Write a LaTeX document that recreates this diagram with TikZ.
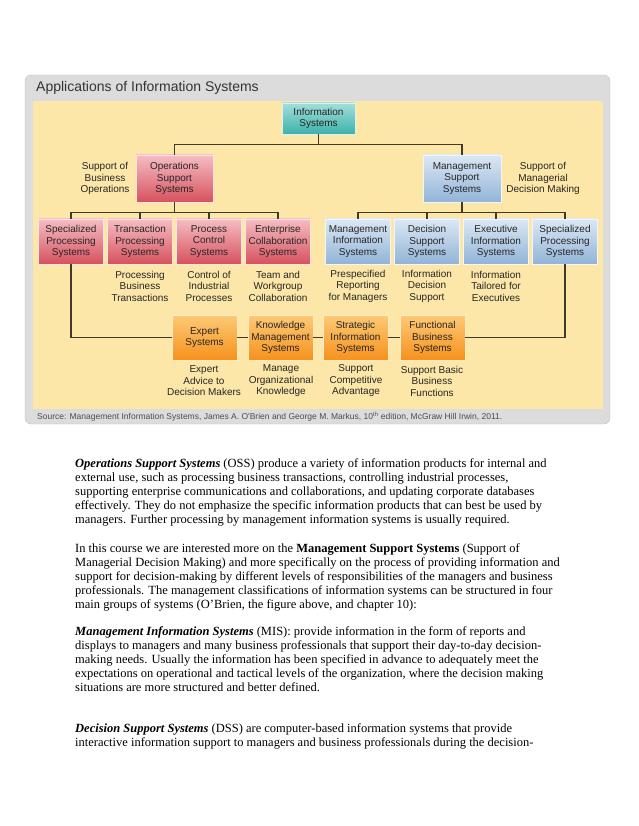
\documentclass[tikz,border=0pt]{standalone}
\usepackage{fontspec}
\setmainfont{Liberation Serif}
\newfontfamily\diagfont{Liberation Sans}
\usepackage{tikz}
\usetikzlibrary{calc,positioning}

\definecolor{panelgray}{HTML}{DCDCDC}
\definecolor{panelline}{HTML}{C4C4C4}
\definecolor{bgyellow}{HTML}{FCE6A8}
\definecolor{linecol}{HTML}{3E3A2C}
\definecolor{tealtop}{HTML}{A4DEDA}
\definecolor{tealbot}{HTML}{3DB1AB}
\definecolor{redtop}{HTML}{F6BDC3}
\definecolor{redbot}{HTML}{D6525E}
\definecolor{bluetop}{HTML}{DCE8F4}
\definecolor{bluebot}{HTML}{92B4D8}
\definecolor{orangetop}{HTML}{FDCA76}
\definecolor{orangebot}{HTML}{F6911C}

\begin{document}
\begin{tikzpicture}[x=1pt,y=-1pt]
      \tikzstyle{bnode} = [rectangle, line width=0.8pt, minimum width=65pt, minimum height=45pt, inner sep=1pt, align=center, text=black!85, font=\diagfont\fontsize{10}{11.5}\selectfont]
      \tikzstyle{tnode} = [bnode, top color=tealtop, bottom color=tealbot, draw=tealtop!40!white]
      \tikzstyle{rnode} = [bnode, top color=redtop, bottom color=redbot, draw=redtop!40!white]
      \tikzstyle{unode} = [bnode, top color=bluetop, bottom color=bluebot, draw=bluetop!40!white]
      \tikzstyle{onode} = [bnode, top color=orangetop, bottom color=orangebot, draw=orangetop!40!white]
      \tikzstyle{lnode} = [align=center, inner sep=0pt, text=black!85, font=\diagfont\fontsize{10}{11.5}\selectfont]
      \tikzstyle{pnode} = [anchor=north west, align=left, inner sep=0pt, font=\fontsize{12.5}{14}\selectfont]
      \tikzstyle{link} = [line width=1.1pt, draw=linecol]

      \fill[white] (0,0) rectangle (638,826);
      \useasboundingbox (0,0) rectangle (638,826);

      % panel
      \filldraw[fill=panelgray, draw=panelline, rounded corners=6pt] (25,75) rectangle (610,424);
      \fill[bgyellow] (33,101) rectangle (603,409);
      \node[anchor=west, inner sep=0pt, text=black!80, font=\diagfont\fontsize{14}{16}\selectfont] (title) at (36,88) {Applications of Information Systems};
      \node[anchor=west, inner sep=0pt, text=black!70, font=\diagfont\fontsize{8.5}{10}\selectfont] (source) at (37,417) {Source: Management Information Systems, James A. O'Brien and George M. Markus, 10\textsuperscript{th} edition, McGraw Hill Irwin, 2011.};

      % level 0 and 1
      \node[tnode, minimum width=73pt, minimum height=31pt] (r01) at (318.5,118.5) {Information\\Systems};
      \node[rnode, minimum width=77pt, minimum height=47pt] (r02) at (174.5,178.5) {Operations\\Support\\Systems};
      \node[unode, minimum width=78pt, minimum height=47pt] (r03) at (462,178.5) {Management\\Support\\Systems};
      \node[lnode] (s01) at (105,178.5) {Support of\\Business\\Operations};
      \node[lnode] (s02) at (543,178.5) {Support of\\Managerial\\Decision Making};

      % level 2
      \node[rnode] (r11) at (71,241.5) {Specialized\\Processing\\Systems};
      \node[rnode] (r12) at (140,241.5) {Transaction\\Processing\\Systems};
      \node[rnode] (r13) at (209,241.5) {Process\\Control\\Systems};
      \node[rnode] (r14) at (278,241.5) {Enterprise\\Collaboration\\Systems};
      \node[unode] (r15) at (358,241.5) {Management\\Information\\Systems};
      \node[unode] (r16) at (427,241.5) {Decision\\Support\\Systems};
      \node[unode] (r17) at (496,241.5) {Executive\\Information\\Systems};
      \node[unode] (r18) at (565,241.5) {Specialized\\Processing\\Systems};

      \node[lnode] (d12) at (140,286) {Processing\\Business\\Transactions};
      \node[lnode] (d13) at (209,286) {Control of\\Industrial\\Processes};
      \node[lnode] (d14) at (278,286) {Team and\\Workgroup\\Collaboration};
      \node[lnode] (d15) at (358,286) {Prespecified\\Reporting\\for Managers};
      \node[lnode] (d16) at (427,286) {Information\\Decision\\Support};
      \node[lnode] (d17) at (496,286) {Information\\Tailored for\\Executives};

      % level 3
      \node[onode] (r21) at (204.5,337.5) {Expert\\Systems};
      \node[onode] (r22) at (280.5,337.5) {Knowledge\\Management\\Systems};
      \node[onode] (r23) at (355.5,337.5) {Strategic\\Information\\Systems};
      \node[onode] (r24) at (432.5,337.5) {Functional\\Business\\Systems};

      \node[lnode] (d21) at (204,381) {Expert\\Advice to\\Decision Makers};
      \node[lnode] (d22) at (281,381) {Manage\\Organizational\\Knowledge};
      \node[lnode] (d23) at (356,381) {Support\\Competitive\\Advantage};
      \node[lnode] (d24) at (432,381) {Support Basic\\Business\\Functions};

      % edge level0 to level1
      \draw[link] (r01.south) -- ++(0,10.5) -| (r02.north);
      \draw[link] (r01.south) -- ++(0,10.5) -| (r03.north);

      % edge level1 to level2
      \draw[link] (r02.south) -- ++(0,10) -| (r11.north);
      \draw[link] (r02.south) -- ++(0,10) -| (r12.north);
      \draw[link] (r02.south) -- ++(0,10) -| (r13.north);
      \draw[link] (r02.south) -- ++(0,10) -| (r14.north);

      \draw[link] (r03.south) -- ++(0,10) -| (r15.north);
      \draw[link] (r03.south) -- ++(0,10) -| (r16.north);
      \draw[link] (r03.south) -- ++(0,10) -| (r17.north);
      \draw[link] (r03.south) -- ++(0,10) -| (r18.north);

      % edge level2 to level3
      \draw[link] (r11.south) |- (r21.west);
      \draw[link] (r21.east) -- (r22.west);
      \draw[link] (r22.east) -- (r23.west);
      \draw[link] (r23.east) -- (r24.west);
      \draw[link] (r24.east) -| (r18.south);

      % text below the figure
      \node[pnode] (p1) at (75,458.5) {\textbf{\textit{Operations Support Systems}} (OSS) produce a variety of information products for internal and\\
        external use, such as processing business transactions, controlling industrial processes,\\
        supporting enterprise communications and collaborations, and updating corporate databases\\
        effectively. They do not emphasize the specific information products that can best be used by\\
        managers. Further processing by management information systems is usually required.};
      \node[pnode] (p2) at (75,543.5) {In this course we are interested more on the \textbf{Management Support Systems} (Support of\\
        Managerial Decision Making) and more specifically on the process of providing information and\\
        support for decision-making by different levels of responsibilities of the managers and business\\
        professionals. The management classifications of information systems can be structured in four\\
        main groups of systems (O'Brien, the figure above, and chapter 10):};
      \node[pnode] (p3) at (75,626.5) {\textbf{\textit{Management Information Systems}} (MIS): provide information in the form of reports and\\
        displays to managers and many business professionals that support their day-to-day decision-\\
        making needs. Usually the information has been specified in advance to adequately meet the\\
        expectations on operational and tactical levels of the organization, where the decision making\\
        situations are more structured and better defined.};
      \node[pnode] (p4) at (75,723.5) {\textbf{\textit{Decision Support Systems}} (DSS) are computer-based information systems that provide\\
        interactive information support to managers and business professionals during the decision-};
\end{tikzpicture}
\end{document}
